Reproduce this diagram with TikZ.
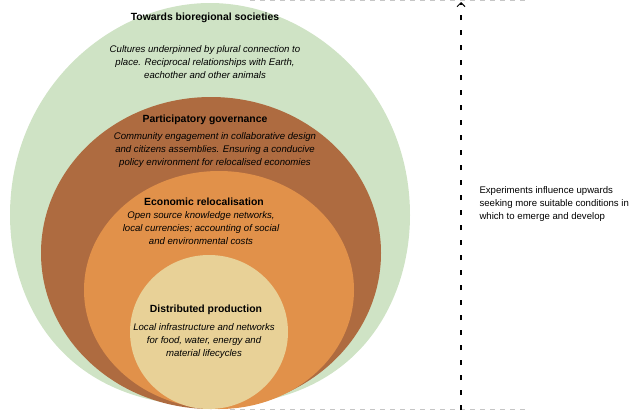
\documentclass[tikz,border=0pt]{standalone}
\usepackage{fontspec}
\setmainfont{Liberation Sans}
\usetikzlibrary{arrows.meta}
\definecolor{cgreen}{HTML}{CFE3C5}
\definecolor{cbrown}{HTML}{AE6B40}
\definecolor{corange}{HTML}{E1914A}
\definecolor{clight}{HTML}{E8D197}
\begin{document}
\begin{tikzpicture}[x=1pt,y=-1pt,
  ttl/.style={font=\fontsize{10.4}{12}\selectfont\bfseries, anchor=center},
  body/.style={font=\fontsize{9.6}{13}\selectfont\itshape, align=center, anchor=north},
  frame/.style={gray!45, dash pattern=on 5pt off 5pt, line width=0.6pt}]
\useasboundingbox (0,0) rectangle (634,410);
\fill[cgreen] (210,406) .. controls (60,406) and (10,300) .. (10,215)
  .. controls (10,90) and (110,3) .. (210,3)
  .. controls (310,3) and (410,90) .. (410,215)
  .. controls (410,300) and (360,406) .. (210,406) -- cycle;
\fill[cbrown] (211,253) ellipse [x radius=170, y radius=156];
\fill[corange] (219,290) ellipse [x radius=135, y radius=119];
\fill[clight] (209,332) ellipse [x radius=79, y radius=77];
\draw[frame] (250,0.5) -- (525,0.5);
\draw[frame] (230,409.5) -- (525,409.5);
\node[ttl] (t1) at (205,18) {Towards bioregional societies};
\node[body] (b1) at (205,42) {Cultures underpinned by plural connection to\\place. Reciprocal relationships with Earth,\\eachother and other animals};
\node[ttl] (t2) at (205,120) {Participatory governance};
\node[body] (b2) at (215,129) {Community engagement in collaborative design\\and citizens assemblies. Ensuring a conducive\\policy environment for relocalised economies};
\node[ttl] (t3) at (204,202) {Economic relocalisation};
\node[body] (b3) at (201,208) {Open source knowledge networks,\\local currencies; accounting of social\\and environmental costs};
\node[ttl] (t4) at (206,310) {Distributed production};
\node[body] (b4) at (204,320) {Local infrastructure and networks\\for food, water, energy and\\material lifecycles};
\coordinate (abot) at (461,410);
\coordinate (atop) at (461,2);
\draw[line width=1.2pt, dash pattern=on 5pt off 10pt, -{Straight Barb[length=4pt,width=8pt,line width=1pt]}] (abot) -- (atop);
\node[font=\fontsize{9.6}{13}\selectfont, align=left, anchor=north west] (rt) at (476,183) {Experiments influence upwards\\seeking more suitable conditions in\\which to emerge and develop};
\end{tikzpicture}
\end{document}
